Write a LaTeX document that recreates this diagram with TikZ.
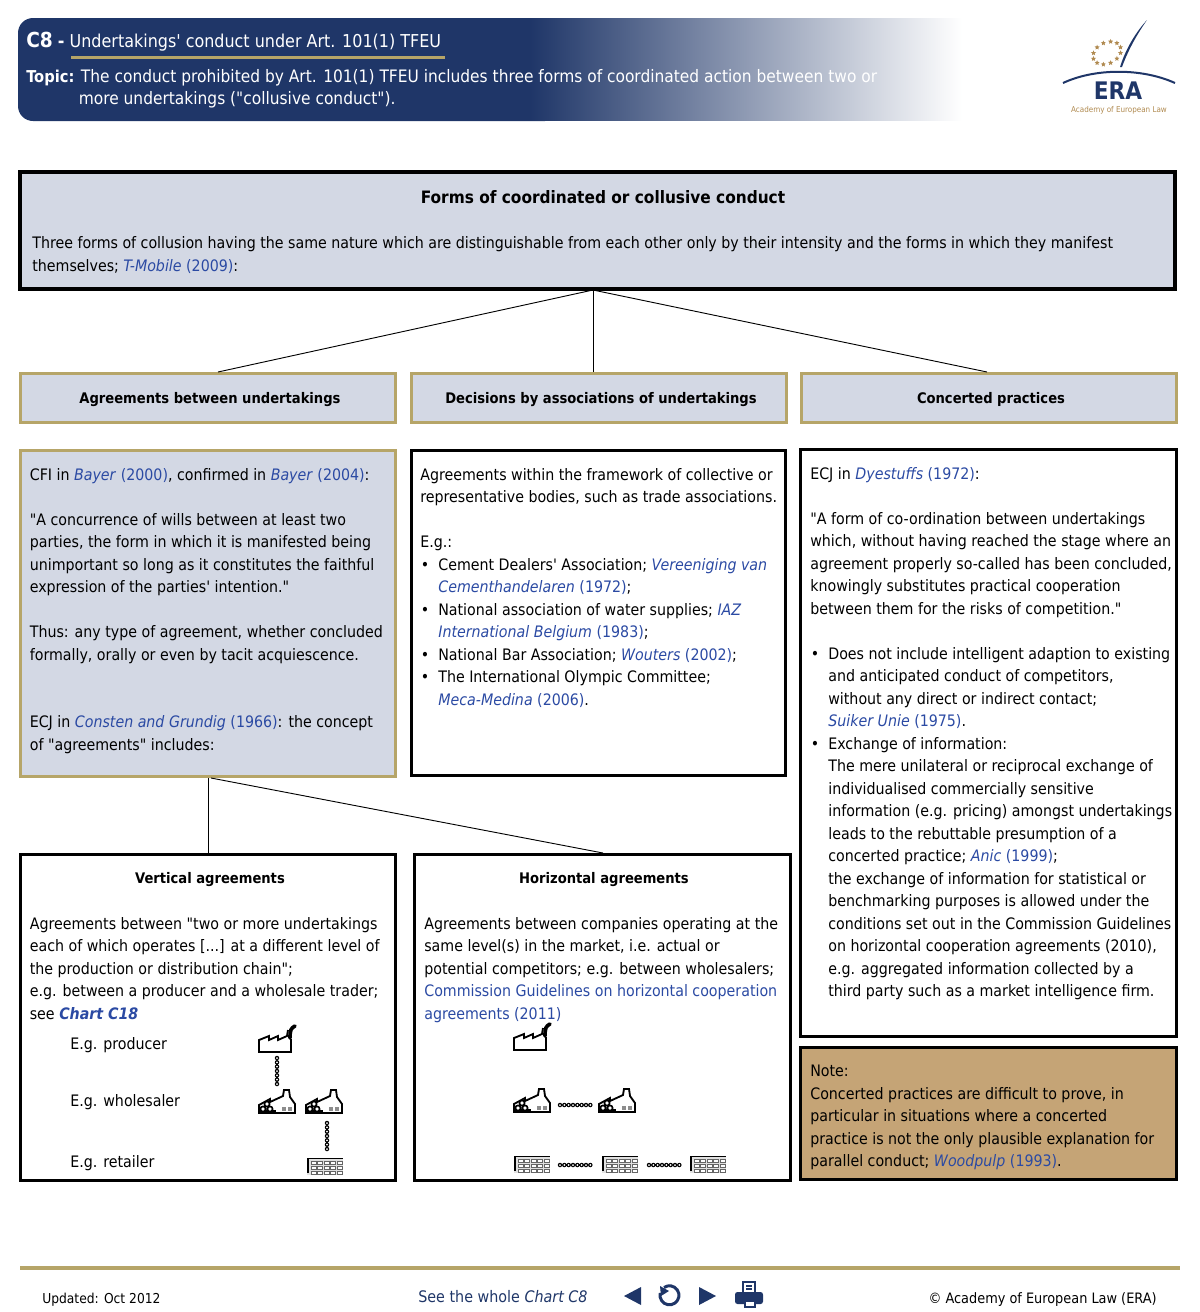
\documentclass[tikz,border=0pt]{standalone}
\usepackage{fontspec}
\setmainfont{DejaVu Sans Condensed}[Ligatures=TeXOff]
\usetikzlibrary{positioning,shapes.geometric,calc}
\definecolor{navy}{HTML}{1F3668}
\definecolor{paleblue}{HTML}{D3D8E4}
\definecolor{eragold}{HTML}{B6A568}
\definecolor{notebrown}{HTML}{C5A476}
\definecolor{linkblue}{HTML}{2B4AA3}
\definecolor{stargold}{HTML}{B08A50}
\newcommand{\caselink}[1]{\textcolor{linkblue}{\textit{#1}}}
\newcommand{\uplink}[1]{\textcolor{linkblue}{#1}}
\newcommand{\itm}{\hspace*{10.8pt}\llap{\textbullet\hspace{5.4pt}}}
\newcommand{\ind}{\hspace*{10.8pt}}
\newcommand{\gap}{\\[13.5pt]}
\tikzset{
  bodytext/.style={anchor=north west,inner sep=0pt,align=left,font=\fontsize{9.48}{13.5}\selectfont,execute at begin node=\strut},
  boxtitle/.style={inner sep=0pt,font=\fontsize{8.75}{13.5}\selectfont\bfseries},
  panel/.style={draw=black,line width=1.8pt,anchor=north west,inner sep=0pt},
  goldpanel/.style={draw=eragold,line width=1.8pt,fill=paleblue,anchor=north west,inner sep=0pt},
  branch/.style={draw=black,line width=0.55pt},
  chainlink/.style={line width=2.7pt,line cap=round,dash pattern=on 0pt off 2.6pt,postaction={draw=white,line width=1.2pt}},
  factoryA/.pic={
    \draw[line width=1.1pt,line join=miter] (32,-13) -- (32,0) -- (0,0) -- (0,-12) -- (10,-16) -- (10,-12) -- (19,-16) -- (19,-12) -- (28,-16) -- (29,-22);
    \draw[line width=2.2pt,line cap=round] (31,-14) .. controls (31,-22) and (32,-24) .. (36,-26);
  },
  factoryB/.pic={
    \draw[line width=1.1pt,fill=white] (0,0) -- (0,-8) -- (11,-14) -- (11,-11) -- (24,-17) -- (25,-23) -- (30,-23) -- (31,-16) -- (36,-9) -- (36,0) -- cycle;
    \fill (0,0) rectangle (17,-3);
    \draw[line width=1pt,fill=white] (4,-4) circle (2.6) (11,-4) circle (2.6) (8,-9) circle (2.6);
    \foreach \wx in {25,31} {\fill[black!45] (\wx-2,-6) rectangle (\wx+2,-2);}
  },
  retail/.pic={
    \fill[black!12] (0,0) rectangle (36,17);
    \draw[line width=1pt] (0,0.5) -- (36,0.5);
    \draw[line width=1.4pt] (1,0) -- (1,15);
    \foreach \wx in {4,10.5,17,23.5,30} \foreach \wy in {3,8,13}
      {\draw[black!60,fill=white,line width=0.4pt] (\wx,\wy) rectangle ++(5,3.6);}
  },
}
\begin{document}
\begin{tikzpicture}[x=0.6pt,y=-0.6pt]
  \useasboundingbox (0,0) rectangle (1200,1312);

  \fill[navy,rounded corners=9pt] (560,18) -- (18,18) -- (18,121) -- (560,121) -- cycle;
  \shade[left color=navy,right color=white,draw=none] (530,18) rectangle (962,120.6);
  \draw[eragold,line width=1.8pt] (71,57) -- (445,57);
  \node[anchor=west,inner sep=0pt,text=white,font=\fontsize{10.65}{14}\selectfont] (charttitle) at (26,42) {{\fontsize{12.4}{14}\selectfont\bfseries C8} \textbf{-} Undertakings' conduct under Art. 101(1) TFEU};
  \node[bodytext,font=\fontsize{10.3}{13.5}\selectfont,text=white] (topic) at (26,69) {{\fontsize{9.8}{13.5}\selectfont\bfseries Topic:} The conduct prohibited by Art. 101(1) TFEU includes three forms of coordinated action between two or\\\hspace*{31.5pt}more undertakings ("collusive conduct").};

  \draw[navy,line width=1.2pt] (1063,83) .. controls (1095,68) and (1142,68) .. (1175,83);
  \fill[navy] (1120,67) .. controls (1126,48) and (1136,32) .. (1147,20) .. controls (1138,33) and (1129,48) .. (1122,67) -- cycle;
  \foreach \a in {0,30,...,330}
    \node[star,star points=5,star point ratio=2.2,fill=stargold,inner sep=0pt,minimum size=3.2pt] at ({1107+14*cos(\a+15)},{53+11*sin(\a+15)-3*cos(\a+15)}) {};
  \node[inner sep=0pt,text=navy,font=\fontsize{14.5}{16}\selectfont\bfseries] (eralogo) at (1118,91) {ERA};
  \node[inner sep=0pt,text=stargold,font=\fontsize{4.8}{5}\selectfont] (erasub) at (1119,110) {Academy of European Law};

  \node[panel,line width=2.4pt,fill=paleblue,minimum width=693pt,minimum height=70.2pt] (forms) at (18,170) {};
  \node[boxtitle,font=\fontsize{10.25}{13.5}\selectfont\bfseries] (formstitle) at (603,197) {Forms of coordinated or collusive conduct};
  \node[bodytext] (formstext) at (32,236.5) {Three forms of collusion having the same nature which are distinguishable from each other only by their intensity and the forms in which they manifest\\themselves; \caselink{T-Mobile} \uplink{(2009)}:};

  \foreach \n/\x/\l in
    {agree/19/{Agreements between undertakings},
     decis/410/{Decisions by associations of undertakings},
     conc/800/{Concerted practices}} {
    \node[goldpanel,minimum width=225pt,minimum height=29.4pt] (\n) at (\x,372) {};
    \node[boxtitle] (\n title) at ($(\n.center)+(2,1.5)$) {\l};
  }
  \coordinate (agreetop) at (218,372);
  \coordinate (decistop) at (593,372);
  \coordinate (conctop) at (987,372);
  \coordinate (formsfoot) at (593,290);
  \draw[branch] (formsfoot) -- (agreetop);
  \draw[branch] (formsfoot) -- (decistop);
  \draw[branch] (formsfoot) -- (conctop);

  \node[goldpanel,minimum width=225pt,minimum height=195.6pt] (agreebox) at (19,449) {};
  \node[bodytext] (agreetext) at (29.5,468) {CFI in \caselink{Bayer} \uplink{(2000)}, confirmed in \caselink{Bayer} \uplink{(2004)}:\gap
"A concurrence of wills between at least two\\parties, the form in which it is manifested being\\unimportant so long as it constitutes the faithful\\expression of the parties' intention."\gap
Thus: any type of agreement, whether concluded\\formally, orally or even by tacit acquiescence.\\[27pt]
ECJ in \caselink{Consten and Grundig} \uplink{(1966)}: the concept\\of "agreements" includes:};

  \node[panel,minimum width=224.4pt,minimum height=194.7pt] (decisbox) at (410,449) {};
  \node[bodytext] (decistext) at (420,468) {Agreements within the framework of collective or\\representative bodies, such as trade associations.\gap
E.g.:\\
\itm Cement Dealers' Association; \caselink{Vereeniging van}\\
\ind\caselink{Cementhandelaren} \uplink{(1972)};\\
\itm National association of water supplies; \caselink{IAZ}\\
\ind\caselink{International Belgium} \uplink{(1983)};\\
\itm National Bar Association; \caselink{Wouters} \uplink{(2002)};\\
\itm The International Olympic Committee;\\
\ind\caselink{Meca-Medina} \uplink{(2006)}.};

  \node[panel,minimum width=225.6pt,minimum height=352.2pt] (concbox) at (799,448) {};
  \node[bodytext] (conctext) at (810,467) {ECJ in \caselink{Dyestuffs} \uplink{(1972)}:\gap
"A form of co-ordination between undertakings\\which, without having reached the stage where an\\agreement properly so-called has been concluded,\\knowingly substitutes practical cooperation\\between them for the risks of competition."\gap
\itm Does not include intelligent adaption to existing\\
\ind and anticipated conduct of competitors,\\
\ind without any direct or indirect contact;\\
\ind\caselink{Suiker Unie} \uplink{(1975)}.\\
\itm Exchange of information:\\
\ind The mere unilateral or reciprocal exchange of\\
\ind individualised commercially sensitive\\
\ind information (e.g. pricing) amongst undertakings\\
\ind leads to the rebuttable presumption of a\\
\ind concerted practice; \caselink{Anic} \uplink{(1999)};\\
\ind the exchange of information for statistical or\\
\ind benchmarking purposes is allowed under the\\
\ind conditions set out in the Commission Guidelines\\
\ind on horizontal cooperation agreements (2010),\\
\ind e.g. aggregated information collected by a\\
\ind third party such as a market intelligence firm.};

  \node[panel,minimum width=225pt,minimum height=195.3pt] (vert) at (19,853) {};
  \node[boxtitle] (verttitle) at (210,879.5) {Vertical agreements};
  \node[bodytext] (verttext) at (29.5,917) {Agreements between "two or more undertakings\\each of which operates [...] at a different level of\\the production or distribution chain";\\e.g. between a producer and a wholesale trader;\\see \caselink{\textbf{Chart C18}}};
  \node[panel,minimum width=225.6pt,minimum height=195.6pt] (horiz) at (413,853) {};
  \node[boxtitle] (horiztitle) at (604,879.5) {Horizontal agreements};
  \node[bodytext] (horiztext) at (424,917) {Agreements between companies operating at the\\same level(s) in the market, i.e. actual or\\potential competitors; e.g. between wholesalers;\\\uplink{Commission Guidelines on horizontal cooperation}\\\uplink{agreements (2011)}};
  \coordinate (agreefoot) at (208,778);
  \coordinate (agreefootb) at (211,778);
  \coordinate (verttop) at (208,853);
  \coordinate (horiztop) at (603,853);
  \draw[branch] (agreefoot) -- (verttop);
  \draw[branch] (agreefootb) -- (horiztop);

  \foreach \n/\y/\l in {prod/1045/{E.g. producer},whole/1102/{E.g. wholesaler},ret/1163/{E.g. retailer}} {
    \node[bodytext,anchor=west,execute at begin node={}] (\n label) at (70,\y) {\l};
  }
  \pic at (259,1052) {factoryA};
  \pic at (259,1113) {factoryB};
  \pic at (306,1113) {factoryB};
  \pic at (307,1158) {retail};
  \pic at (514,1050) {factoryA};
  \pic at (514,1112) {factoryB};
  \pic at (599,1112) {factoryB};
  \foreach \x in {514,602,690} {
    \pic at (\x,1156) {retail};
  }
  \foreach \n/\xa/\ya/\xb/\yb in
    {a/277/1058/277/1088,
     b/327/1123/327/1153,
     c/560/1105/592/1105,
     d/560/1165/592/1165,
     e/649/1165/680/1165} {
    \coordinate (chain\n start) at (\xa,\ya);
    \coordinate (chain\n end) at (\xb,\yb);
    \draw[chainlink] (chain\n start) -- (chain\n end);
  }

  \node[panel,fill=notebrown,minimum width=225.6pt,minimum height=79.2pt] (note) at (799,1046) {};
  \node[bodytext] (notetext) at (810,1065) {Note:\\Concerted practices are difficult to prove, in\\particular in situations where a concerted\\practice is not the only plausible explanation for\\parallel conduct; \caselink{Woodpulp} \uplink{(1993)}.};

  \draw[eragold,line width=2.4pt] (20,1268) -- (1180,1268);
  \node[anchor=west,inner sep=0pt,font=\fontsize{8.2}{10}\selectfont] (updated) at (42,1300) {Updated: Oct 2012};
  \node[anchor=west,inner sep=0pt,text=navy,font=\fontsize{9.55}{10}\selectfont] (whole) at (418,1297) {See the whole \textit{Chart C8}};
  \node[anchor=east,inner sep=0pt,font=\fontsize{8.6}{10}\selectfont] (copyr) at (1157,1300) {© Academy of European Law (ERA)};
  \fill[navy] (641,1287) -- (624,1296) -- (641,1305) -- cycle;
  \fill[navy] (699,1287) -- (716,1296) -- (699,1305) -- cycle;
  \draw[navy,line width=1.8pt] (664,1287.5) arc[start angle=-125,end angle=195,radius=9.5];
  \fill[navy] (660,1286) -- (669,1291) -- (661,1296) -- cycle;
  \fill[navy,rounded corners=1.5pt] (735,1292) rectangle (763,1304);
  \draw[navy,fill=white,line width=1pt] (743,1282) rectangle (755,1293);
  \draw[navy,line width=0.8pt] (746,1286) -- (752,1286) (746,1289) -- (752,1289);
  \draw[navy,fill=white,line width=1pt] (745,1301) rectangle (755,1307);
\end{tikzpicture}
\end{document}
